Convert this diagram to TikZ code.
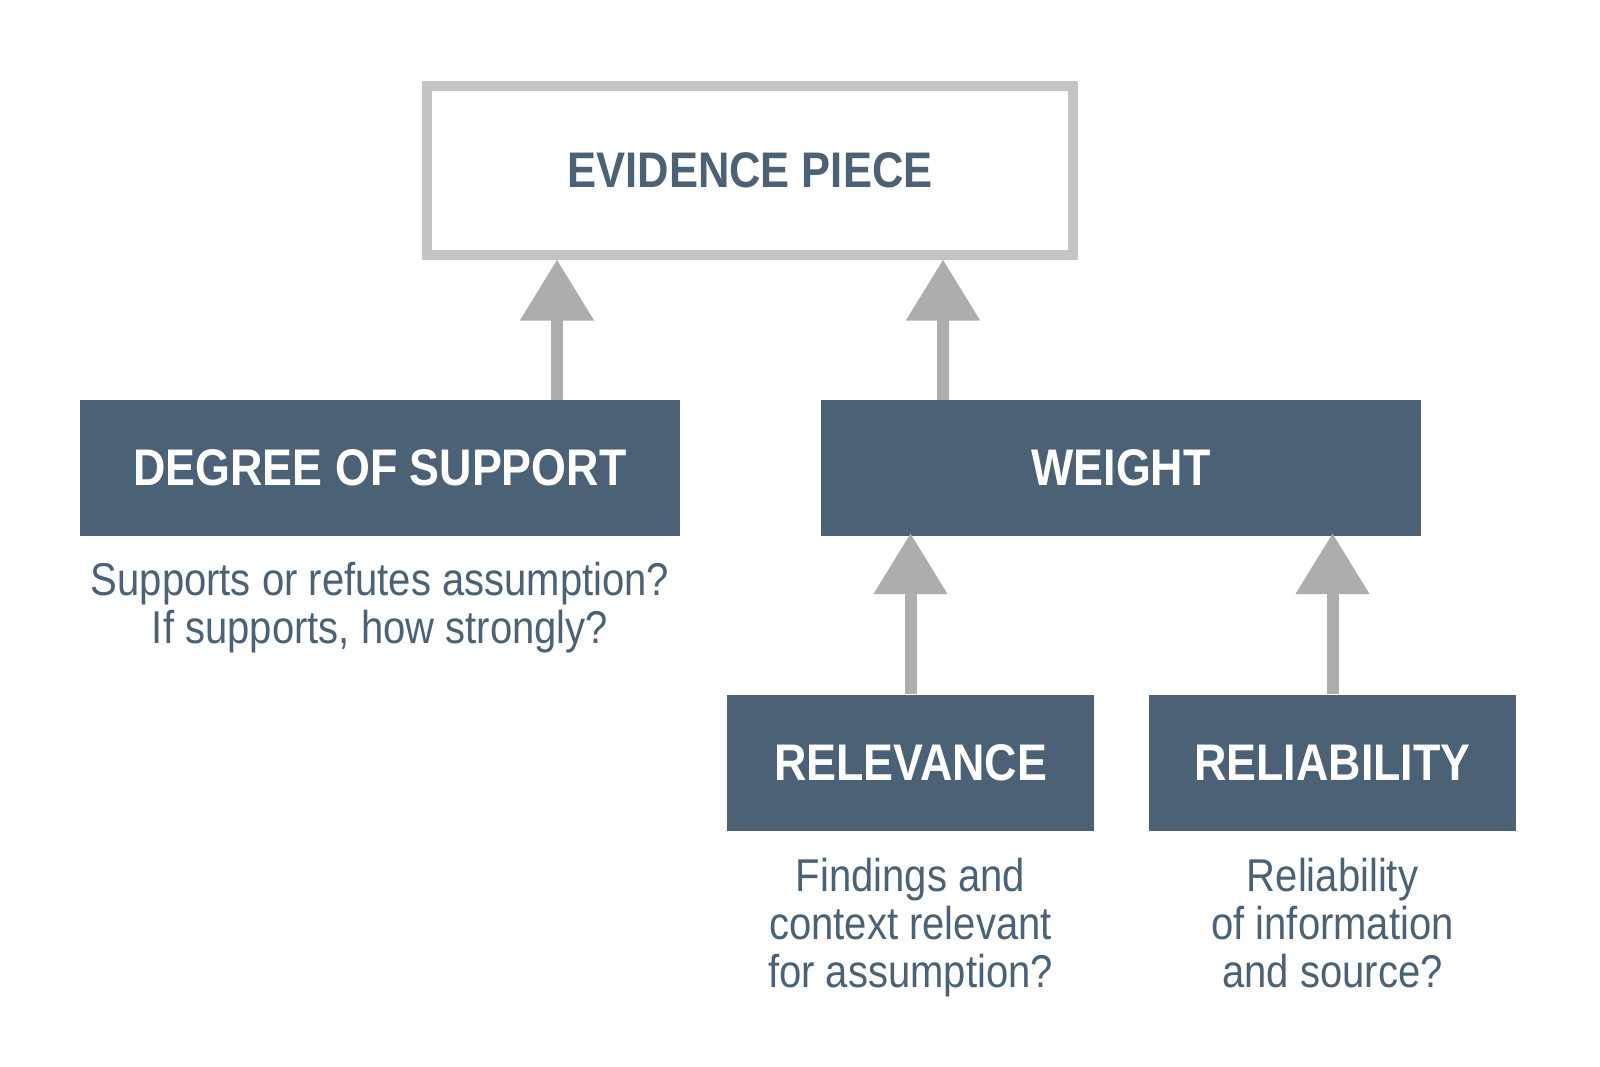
\documentclass[tikz,border=0pt]{standalone}
\usepackage{fontspec}
\setmainfont{Liberation Sans}[FakeStretch=0.87]
\usetikzlibrary{arrows.meta}
\usetikzlibrary{positioning}
\definecolor{slate}{RGB}{75,97,118}
\definecolor{framegray}{RGB}{196,196,196}
\definecolor{arrowgray}{RGB}{173,173,173}

\tikzset{
  topbox/.style={draw=framegray, line width=10pt, fill=white, inner sep=0pt,
    minimum width=646pt, minimum height=169pt, text=slate,
    font=\bfseries\fontsize{50}{60}\selectfont},
  factor/.style={fill=slate, text=white, inner sep=0pt,
    minimum height=136pt, font=\bfseries\fontsize{51.5}{60}\selectfont},
  question/.style={text=slate, inner sep=0pt, align=center,
    font=\fontsize{46}{48}\selectfont},
  uparrow/.style={draw=arrowgray, line width=12pt,
    -{Triangle[width=71pt,length=61pt]}},
}

\begin{document}
\begin{tikzpicture}[x=1pt,y=-1pt]
\useasboundingbox (0,0) rectangle (1600,1066);
% boxes
\node[topbox] (evidence) at (750,170) {EVIDENCE PIECE};
\node[factor, minimum width=600pt] (support) at (380,468) {DEGREE OF SUPPORT};
\node[factor, minimum width=600pt] (weight) at (1121,468) {WEIGHT};
\node[factor, minimum width=367pt] (relevance) at (910.5,762.5) {RELEVANCE};
\node[factor, minimum width=367pt] (reliability) at (1332.5,762.5) {RELIABILITY};
% questions
\node[question, below=26pt of support] (supportq) {Supports or refutes assumption?\\If supports, how strongly?};
\node[question, below=27pt of relevance] (relevanceq) {Findings and\\context relevant\\for assumption?};
\node[question, below=27pt of reliability] (reliabilityq) {Reliability\\of information\\and source?};
% arrows
\coordinate (a1) at (557,0);
\coordinate (a2) at (943,0);
\draw[uparrow] (support.north -| a1) -- (evidence.south -| a1);
\draw[uparrow] (weight.north -| a2) -- (evidence.south -| a2);
\draw[uparrow, shorten >=-3pt] (relevance.north) -- (weight.south -| relevance.north);
\draw[uparrow, shorten >=-3pt] (reliability.north) -- (weight.south -| reliability.north);
\end{tikzpicture}
\end{document}
